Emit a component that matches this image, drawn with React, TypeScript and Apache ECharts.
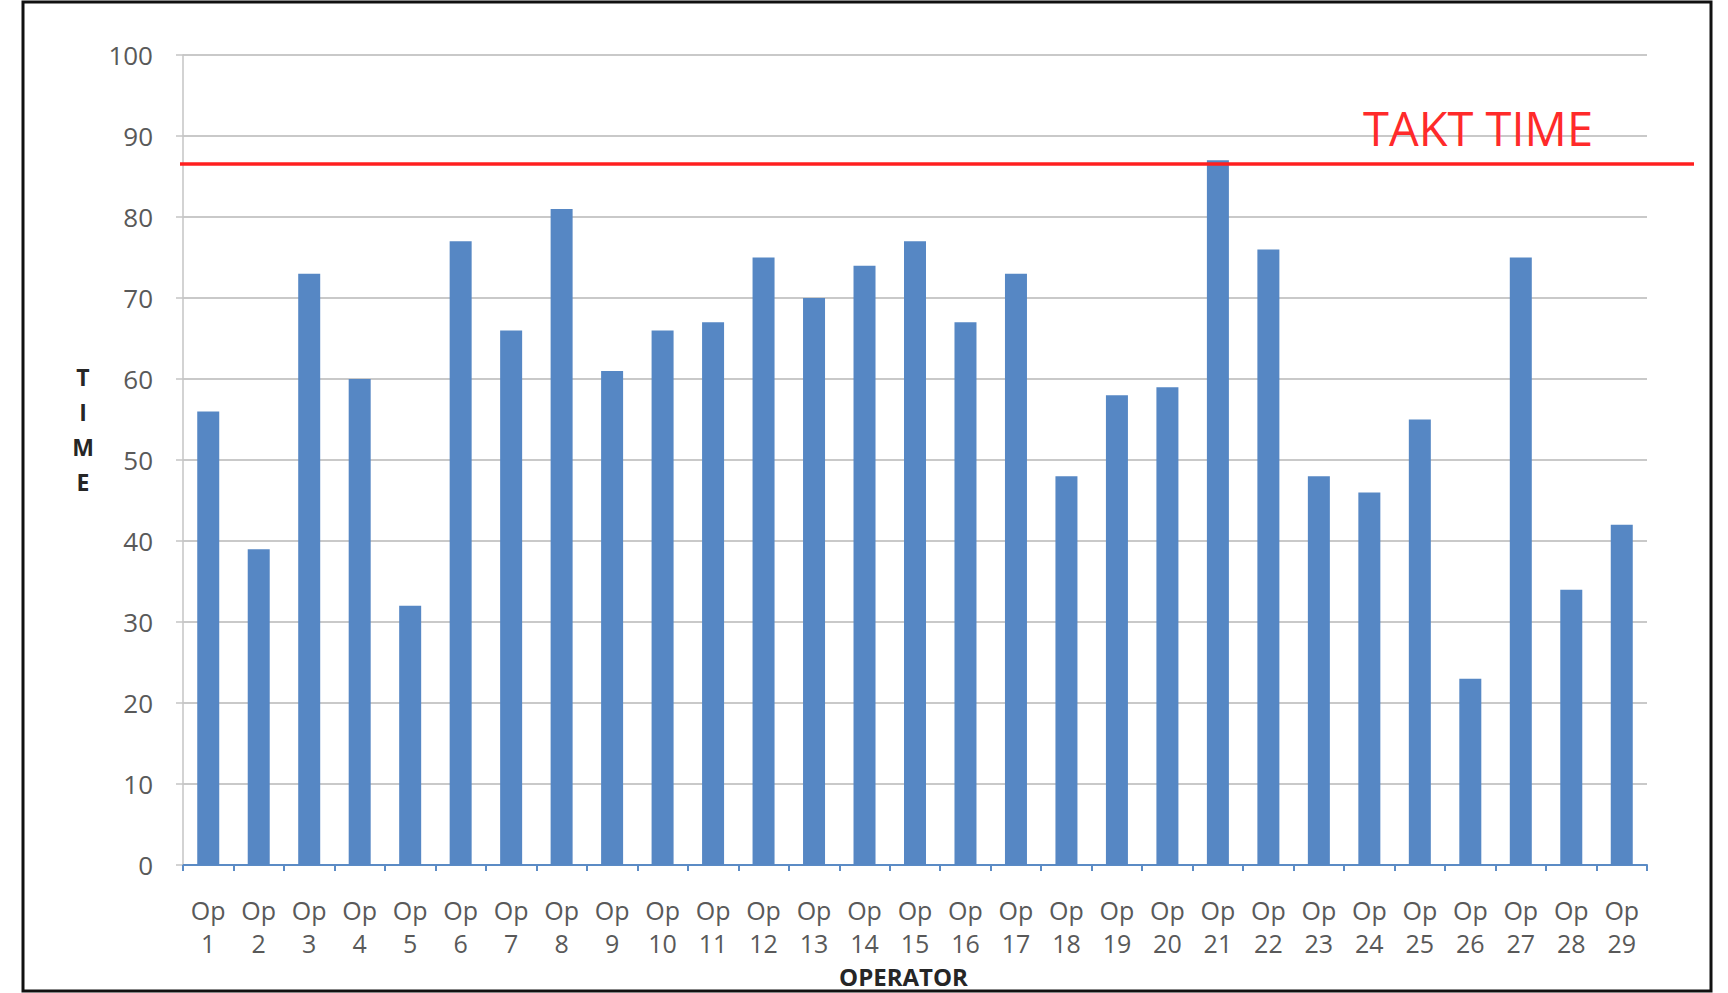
import React, { useEffect, useRef } from "react";
import * as echarts from "echarts";

const categories: string[] = [
  "Op 1", "Op 2", "Op 3", "Op 4", "Op 5", "Op 6", "Op 7", "Op 8", "Op 9", "Op 10",
  "Op 11", "Op 12", "Op 13", "Op 14", "Op 15", "Op 16", "Op 17", "Op 18", "Op 19", "Op 20",
  "Op 21", "Op 22", "Op 23", "Op 24", "Op 25", "Op 26", "Op 27", "Op 28", "Op 29",
];
const times: number[] = [
  56, 39, 73, 60, 32, 77, 66, 81, 61, 66,
  67, 75, 70, 74, 77, 67, 73, 48, 58, 59,
  87, 76, 48, 46, 55, 23, 75, 34, 42,
];
const taktTime = 87;
const taktLabel = "TAKT TIME";
const yTitle = "TIME";
const xTitle = "OPERATOR";

const FONT = "'Open Sans', 'Noto Sans', sans-serif";

export default function App() {
  const ref = useRef<HTMLDivElement>(null);
  useEffect(() => {
    document.body.style.margin = "0";
    document.body.style.background = "#ffffff";
    const chart = echarts.init(ref.current!, null, { renderer: "svg" });
    chart.setOption({
      animation: false,
      backgroundColor: "#ffffff",
      grid: [
        { left: 183, right: 81, top: 55, bottom: 102 },
        { left: 180, right: 34, top: 55, bottom: 102 },
      ],
      xAxis: [
        {
          type: "category",
          gridIndex: 0,
          data: categories,
          axisLine: { show: true, lineStyle: { color: "#5b8bc5", width: 2 } },
          axisTick: { show: true, length: 6, lineStyle: { color: "#5b8bc5", width: 2 } },
          axisLabel: {
            interval: 0,
            margin: 28,
            color: "#595959",
            fontSize: 25,
            fontFamily: FONT,
            lineHeight: 33,
            formatter: (v: string) => v.replace(" ", "\n"),
          },
          name: xTitle,
          nameLocation: "middle",
          nameGap: 69,
          nameTextStyle: {
            color: "#262626",
            fontSize: 24,
            fontWeight: "bold",
            fontFamily: FONT,
            padding: [0, 23, 0, 0],
          },
        },
        {
          type: "value",
          gridIndex: 1,
          min: 0,
          max: 1,
          show: false,
        },
      ],
      yAxis: [
        {
          type: "value",
          gridIndex: 0,
          min: 0,
          max: 100,
          interval: 10,
          axisLine: { show: true, lineStyle: { color: "#c4c4c4", width: 1.5 } },
          axisTick: { show: true, length: 7, lineStyle: { color: "#c4c4c4", width: 1.5 } },
          axisLabel: {
            color: "#595959",
            fontSize: 26,
            fontFamily: FONT,
            margin: 30,
          },
          splitLine: { show: true, lineStyle: { color: "#c9c9c9", width: 2 } },
        },
        {
          type: "value",
          gridIndex: 1,
          min: 0,
          max: 100,
          show: false,
        },
      ],
      series: [
        {
          type: "bar",
          xAxisIndex: 0,
          yAxisIndex: 0,
          data: times,
          barWidth: 22,
          itemStyle: { color: "#5687c4" },
          silent: true,
        },
        {
          type: "line",
          xAxisIndex: 1,
          yAxisIndex: 1,
          data: [[0, taktTime], [1, taktTime]],
          symbol: "none",
          lineStyle: { width: 0, opacity: 0 },
          silent: true,
          markLine: {
            silent: true,
            symbol: ["none", "none"],
            lineStyle: { color: "#ff1f1f", width: 3.5, type: "solid" },
            label: {
              show: true,
              position: "insideEndTop",
              distance: [101, 12],
              formatter: taktLabel,
              color: "#ff2a2a",
              fontSize: 47,
              fontFamily: FONT,
            },
            data: [{ yAxis: taktTime }],
          },
        },
      ],
      graphic: [
        {
          type: "text",
          x: 83,
          y: 429,
          style: {
            text: yTitle.split("").join("\n"),
            fill: "#262626",
            font: `bold 23px ${FONT}`,
            lineHeight: 35,
            align: "center",
            verticalAlign: "middle",
          },
          silent: true,
        },
        {
          type: "rect",
          shape: { x: 23, y: 2, width: 1688, height: 989 },
          style: { fill: "none", stroke: "#111111", lineWidth: 3 },
          silent: true,
          z: 100,
        },
      ],
    });
    return () => chart.dispose();
  }, []);
  return (
    <div
      ref={ref}
      style={{ position: "fixed", left: 0, top: 0, width: 1728, height: 993 }}
    />
  );
}
